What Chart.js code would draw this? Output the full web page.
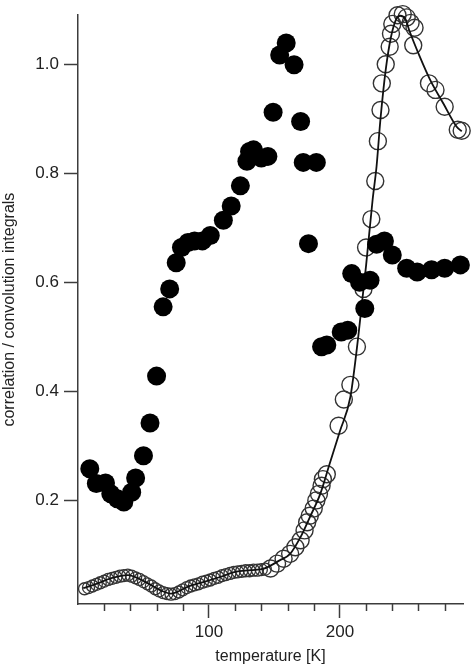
<!DOCTYPE html>
<html>
<head>
<meta charset="utf-8">
<script src="https://cdn.jsdelivr.net/npm/chart.js@4/dist/chart.umd.min.js"></script>
<style>
  html, body { margin: 0; padding: 0; background: #fff; }
  #wrap { width: 474px; height: 670px; }
</style>
</head>
<body>
<div id="wrap"><canvas id="chart-corr"></canvas></div>
<script>
// filled circles: correlation integral
const tempFilled = [9, 14, 21, 25, 30, 35, 41, 44, 50, 55, 60, 65, 70, 75, 79, 84, 89, 95, 101,
  111, 117, 124, 129, 131, 134, 140, 145, 149, 154, 159, 165, 170, 172, 176, 182, 186, 190,
  201, 206, 209, 215, 219, 223, 228, 234, 240, 251, 259, 270, 280, 292];
const corrFilled = [0.258, 0.231, 0.232, 0.212, 0.203, 0.197, 0.215, 0.241, 0.282, 0.342, 0.428,
  0.555, 0.588, 0.636, 0.664, 0.673, 0.676, 0.676, 0.686, 0.714, 0.740, 0.777, 0.822, 0.840,
  0.843, 0.828, 0.831, 0.912, 1.017, 1.039, 0.999, 0.895, 0.820, 0.671, 0.820, 0.482, 0.485,
  0.509, 0.512, 0.616, 0.600, 0.552, 0.604, 0.670, 0.676, 0.650, 0.626, 0.619, 0.623, 0.626, 0.632];

// open circles, dense low-temperature run
const tempOpenLow = [5, 8, 11, 14, 17, 20, 23, 26, 29, 32, 35, 38, 41, 44, 47, 50, 53, 56, 59, 62,
  65, 68, 71, 74, 77, 80, 83, 86, 89, 92, 95, 98, 101, 104, 107, 110, 113, 116, 119, 122, 125,
  128, 131, 134, 137, 140, 143];
const convOpenLow = [0.038, 0.040, 0.043, 0.046, 0.049, 0.052, 0.055, 0.057, 0.059, 0.061, 0.062,
  0.063, 0.061, 0.058, 0.055, 0.051, 0.047, 0.043, 0.038, 0.034, 0.031, 0.029, 0.028, 0.029,
  0.032, 0.036, 0.040, 0.043, 0.045, 0.047, 0.050, 0.052, 0.054, 0.057, 0.059, 0.062, 0.064,
  0.066, 0.068, 0.069, 0.070, 0.071, 0.071, 0.072, 0.072, 0.073, 0.074];

// open circles, rise and peak
const tempOpenHigh = [147, 152, 157, 162, 166, 170, 173, 175, 177, 180, 182, 184, 186, 187, 190,
  199, 203, 208, 213, 218, 220, 224, 227, 229, 231, 232, 235, 238, 239, 240, 244, 248, 251, 254,
  257, 256, 268, 273, 280, 290, 293];
const convOpenHigh = [0.075, 0.084, 0.093, 0.102, 0.114, 0.127, 0.145, 0.160, 0.172, 0.185, 0.200,
  0.212, 0.227, 0.239, 0.248, 0.337, 0.385, 0.412, 0.482, 0.588, 0.664, 0.716, 0.786, 0.859,
  0.916, 0.965, 1.000, 1.032, 1.056, 1.074, 1.090, 1.092, 1.086, 1.076, 1.067, 1.035, 0.965,
  0.953, 0.922, 0.880, 0.878];

// fitted curve through the open circles
const tempFit = [4, 15, 25, 38, 51, 64, 71, 84, 97, 109, 120, 132, 142, 154, 162, 170, 177, 185,
  192, 200, 208, 214, 220, 225, 228, 231, 235, 239, 243, 246, 250, 253, 261, 269, 279, 289, 293];
const convFit = [0.039, 0.048, 0.057, 0.063, 0.051, 0.034, 0.029, 0.042, 0.051, 0.060, 0.069,
  0.072, 0.075, 0.090, 0.102, 0.133, 0.169, 0.212, 0.266, 0.327, 0.390, 0.500, 0.631, 0.752,
  0.813, 0.900, 0.990, 1.050, 1.083, 1.089, 1.083, 1.062, 1.014, 0.971, 0.928, 0.886, 0.877];

const yTickValues = [0.2, 0.4, 0.6, 0.8, 1.0];
const xMajorTicks = [100, 200];
const xMinorTicks = [20, 40, 60, 80, 120, 140, 160, 180, 220, 240, 260, 280];

const AXIS = '#3c3c3c';
const TEXT = '#222';
const FONT = 'Liberation Sans, Arial, Helvetica, sans-serif';

const pts = (xs, ys) => xs.map((x, i) => ({ x: x, y: ys[i] }));

// short minor ticks under the x axis
const minorTicks = {
  id: 'minorTicks',
  afterDraw(chart) {
    const sx = chart.scales.x, ctx = chart.ctx;
    ctx.save();
    ctx.strokeStyle = AXIS;
    ctx.lineWidth = 1.5;
    xMinorTicks.forEach(v => {
      const px = Math.round(sx.getPixelForValue(v)) + 0.5;
      ctx.beginPath();
      ctx.moveTo(px, sx.top);
      ctx.lineTo(px, sx.top + 7);
      ctx.stroke();
    });
    ctx.restore();
  }
};

new Chart(document.getElementById('chart-corr').getContext('2d'), {
  type: 'scatter',
  data: {
    datasets: [
      { label: 'correlation', data: pts(tempFilled, corrFilled), pointRadius: 9.5,
        backgroundColor: '#000', borderWidth: 0, clip: false },
      { label: 'fit', data: pts(tempFit, convFit), showLine: true, pointRadius: 0,
        borderColor: '#111', borderWidth: 1.8, cubicInterpolationMode: 'monotone', clip: false },
      { label: 'convolution', data: pts(tempOpenHigh, convOpenHigh), pointRadius: 8.5,
        backgroundColor: 'rgba(0,0,0,0)', borderColor: '#333', borderWidth: 1.4, clip: false },
      { label: 'convolution low', data: pts(tempOpenLow, convOpenLow), pointRadius: 6,
        backgroundColor: 'rgba(0,0,0,0)', borderColor: '#333', borderWidth: 1.3, clip: false },
    ]
  },
  options: {
    responsive: true,
    maintainAspectRatio: false,
    animation: false,
    layout: { padding: { top: 12, right: 11, left: 0, bottom: 0 } },
    plugins: { legend: { display: false }, tooltip: { enabled: false } },
    scales: {
      x: {
        type: 'linear', min: 0, max: 294,
        afterBuildTicks: s => { s.ticks = xMajorTicks.map(v => ({ value: v })); },
        afterFit: s => { s.height = 66; },
        grid: { drawOnChartArea: false, tickLength: 14, tickColor: AXIS, tickWidth: 1.5 },
        border: { color: AXIS, width: 1.5 },
        ticks: { color: TEXT, padding: 4, font: { family: FONT, size: 17 }, maxRotation: 0 },
        title: { display: true, text: 'temperature [K]', color: TEXT,
          font: { family: FONT, size: 16 }, padding: { top: 0, bottom: 4 } }
      },
      y: {
        type: 'linear', min: 0.01, max: 1.09,
        afterBuildTicks: s => { s.ticks = yTickValues.map(v => ({ value: v })); },
        afterFit: s => { s.width = 78; },
        grid: { drawOnChartArea: false, tickLength: 14, tickColor: AXIS, tickWidth: 1.5 },
        border: { color: AXIS, width: 1.5 },
        ticks: { color: TEXT, padding: 5, font: { family: FONT, size: 17 },
          callback: v => v.toFixed(1) },
        title: { display: true, text: 'correlation / convolution integrals', color: TEXT,
          font: { family: FONT, size: 16 }, padding: { top: 0, bottom: 0 } }
      }
    }
  },
  plugins: [minorTicks]
});
</script>
</body>
</html>
